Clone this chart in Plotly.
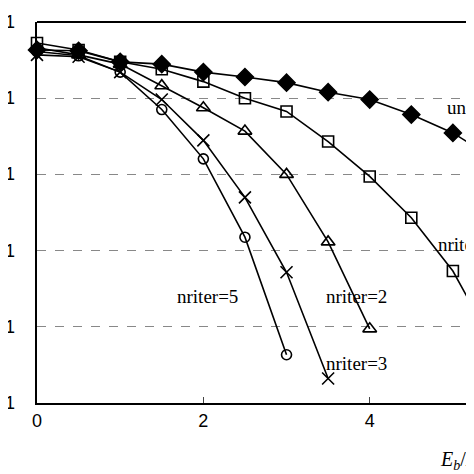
import math
import plotly.graph_objects as go

ebno = [0, 0.5, 1, 1.5, 2, 2.5, 3, 3.5, 4, 4.5, 5, 5.5]

uncoded = [0.43, 0.42, 0.30, 0.28, 0.22, 0.19, 0.16, 0.12, 0.096, 0.061, 0.035, 0.016]
nriter1 = [0.53, 0.43, 0.30, 0.24, 0.165, 0.10, 0.067, 0.027, 0.0094, 0.0027, 0.00054, 5.5e-5]
nriter2 = [0.46, 0.37, 0.28, 0.146, 0.075, 0.037, 0.010, 0.0013, 9.4e-5]
nriter3 = [0.37, 0.35, 0.22, 0.096, 0.028, 0.005, 0.00052, 2.1e-5]
nriter5 = [0.41, 0.36, 0.22, 0.071, 0.016, 0.0015, 4.3e-5]

y_ticks = [1, 0.1, 0.01, 0.001, 0.0001, 0.00001]
y_tick_text = ["1", "0.1", "0.01", "0.001", "0.0001", "0.00001"]

series = [
    (uncoded, "diamond", "black", 13),
    (nriter1, "square-open", "black", 11),
    (nriter2, "triangle-up-open", "black", 12),
    (nriter3, "x-thin-open", "black", 12),
    (nriter5, "circle-open", "black", 10),
]

fig = go.Figure()
for ys, sym, col, size in series:
    fig.add_trace(go.Scatter(
        x=ebno[:len(ys)], y=ys, mode="lines+markers",
        line=dict(color="black", width=1.6),
        marker=dict(symbol=sym, size=size, color=col,
                    line=dict(color="black", width=1.6)),
        showlegend=False, cliponaxis=False))

serif = "Liberation Serif"
labels = [
    ("uncoded", 4.9, 0.075, "left"),
    ("nriter=1", 4.8, 0.0012, "left"),
    ("nriter=2", 3.45, 0.00025, "left"),
    ("nriter=3", 3.45, 3.3e-5, "left"),
    ("nriter=5", 2.05, 0.00025, "center"),
]
# annotation y on a log axis is given in log10 units
for txt, x, y, anc in labels:
    fig.add_annotation(x=x, y=math.log10(y), yref="y", xref="x", text=txt, showarrow=False,
                       xanchor=anc, font=dict(family=serif, size=19, color="black"))

# y tick labels, clipped at the left edge like the source image
for v, t in zip(y_ticks, y_tick_text):
    fig.add_annotation(x=-0.045, xref="paper", y=math.log10(v), yref="y", text=t,
                       showarrow=False, xanchor="right",
                       font=dict(family="Liberation Sans", size=18, color="black"))

fig.add_annotation(x=0.9, xref="paper", y=-0.15, yref="paper", showarrow=False,
                   xanchor="left", yanchor="middle",
                   text="<i>E<sub>b</sub></i>/<i>N</i><sub>0</sub> (dB)",
                   font=dict(family=serif, size=20, color="black"))

fig.update_xaxes(range=[0, 5.35], tickvals=[0, 2, 4], ticks="inside", ticklen=6,
                 tickfont=dict(family="Liberation Sans", size=18, color="black"),
                 showline=True, linecolor="black", linewidth=2, showgrid=False,
                 zeroline=False, mirror=False)
fig.update_yaxes(type="log", range=[-5, 0], tickvals=y_ticks, showticklabels=False,
                 showline=True, linecolor="black", linewidth=2, gridcolor="#888",
                 griddash="dash", gridwidth=1, zeroline=False)
# top border
fig.add_shape(type="line", xref="paper", yref="paper", x0=0, x1=1, y0=1, y1=1,
              line=dict(color="black", width=2))

fig.update_layout(width=474, height=474, plot_bgcolor="white", paper_bgcolor="white",
                  margin=dict(l=29, r=0, t=14, b=79))

fig.write_html("out.html")
